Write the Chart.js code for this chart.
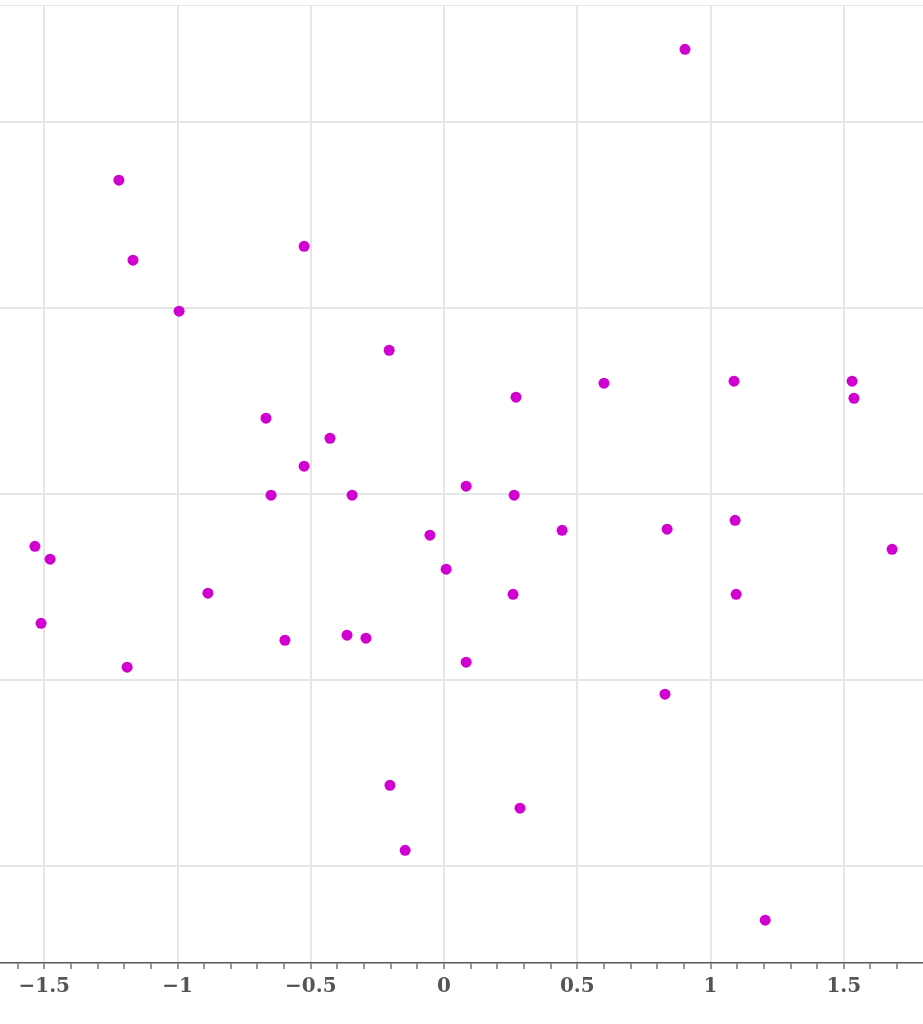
<!DOCTYPE html>
<html>
<head>
<meta charset="utf-8">
<script src="https://cdn.jsdelivr.net/npm/chart.js@4"></script>
<style>
  html, body { margin: 0; padding: 0; background: #fff; }
  #wrap { position: relative; width: 923px; height: 1024px; }
  #topline { position: absolute; left: 0; right: 0; top: 5px; height: 1px; background: #e6e6e6; }
</style>
</head>
<body>
<div id="wrap">
  <div id="topline"></div>
  <canvas id="chart" width="923" height="1024"></canvas>
</div>
<script>
const xValues = [0.904, -1.220, -1.167, -0.525, -0.994, -0.206, 0.270, 0.600, 1.088, 1.531,
  1.538, -0.668, -0.428, -0.525, -0.649, -0.345, 0.083, 0.263, 0.443, 0.837,
  1.092, 1.681, -1.535, -1.478, -0.053, 0.008, -0.886, 0.259, 1.096, -1.512,
  -0.597, -0.364, -0.293, -1.189, 0.083, 0.829, -0.203, 0.285, -0.146, 1.205];
const yValues = [2.392, 1.688, 1.258, 1.333, 0.984, 0.774, 0.522, 0.597, 0.608, 0.608,
  0.516, 0.409, 0.301, 0.151, -0.005, -0.005, 0.043, -0.005, -0.194, -0.188,
  -0.140, -0.296, -0.280, -0.349, -0.220, -0.403, -0.532, -0.538, -0.538, -0.694,
  -0.785, -0.758, -0.774, -0.930, -0.903, -1.075, -1.565, -1.688, -1.914, -2.290];
const majorTicks = [-1.5, -1, -0.5, 0, 0.5, 1, 1.5];

const isMajor = v => majorTicks.some(m => Math.abs(m - v) < 1e-6);
const fmt = v => (v < 0 ? '\u2212' : '') + String(Math.abs(Math.round(v * 10) / 10));

new Chart(document.getElementById('chart'), {
  type: 'scatter',
  data: {
    datasets: [{
      data: xValues.map((x, i) => ({ x: x, y: yValues[i] })),
      backgroundColor: '#d000d0',
      borderWidth: 0,
      pointRadius: 5.5
    }]
  },
  options: {
    responsive: false,
    animation: false,
    layout: { autoPadding: false, padding: { top: 5, left: 0, right: 0, bottom: 19 } },
    plugins: { legend: { display: false }, tooltip: { enabled: false } },
    scales: {
      x: {
        type: 'linear',
        min: -1.666,
        max: 1.797,
        afterBuildTicks: axis => {
          const t = [];
          for (let k = -16; k <= 17; k++) t.push({ value: k / 10 });
          axis.ticks = t;
        },
        ticks: {
          autoSkip: false,
          maxRotation: 0,
          color: '#555',
          font: { family: 'DejaVu Serif', size: 20, weight: 'bold' },
          padding: 6,
          callback: v => isMajor(v) ? fmt(v) : ''
        },
        grid: {
          color: ctx => isMajor(ctx.tick.value) ? '#e6e6e6' : 'rgba(0,0,0,0)',
          tickColor: '#999',
          tickLength: 6,
          lineWidth: 2
        },
        border: { color: '#555', width: 1.5 }
      },
      y: {
        type: 'linear',
        min: -2.52,
        max: 2.63,
        afterBuildTicks: axis => {
          axis.ticks = [-2, -1, 0, 1, 2].map(v => ({ value: v }));
        },
        afterFit: axis => { axis.width = 0; },
        ticks: { display: false },
        grid: { color: '#e6e6e6', lineWidth: 2, drawTicks: false },
        border: { display: false }
      }
    }
  }
});
</script>
</body>
</html>
